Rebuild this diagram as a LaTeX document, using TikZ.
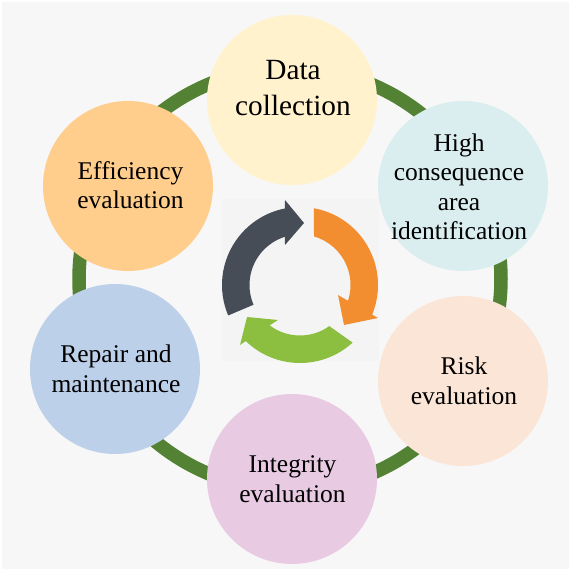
\documentclass[tikz,border=0pt]{standalone}
\usepackage{fontspec}
\setmainfont{Liberation Serif}
\definecolor{bgpanel}{HTML}{F7F7F7}
\definecolor{iconbg}{HTML}{F4F4F4}
\definecolor{ringgreen}{HTML}{548235}
\definecolor{cDC}{HTML}{FFF2CC}
\definecolor{cHC}{HTML}{DAEEF0}
\definecolor{cRE}{HTML}{FBE5D6}
\definecolor{cIE}{HTML}{E9CAE3}
\definecolor{cRM}{HTML}{BDD0EA}
\definecolor{cEE}{HTML}{FFCD8C}
\definecolor{arrDark}{HTML}{474D57}
\definecolor{arrOrange}{HTML}{F28E30}
\definecolor{arrGreen}{HTML}{8CBF40}
\begin{document}
\begin{tikzpicture}[x=1pt,y=1pt,
  stagecircle/.style={circle,draw=none,minimum size=170pt,inner sep=0pt},
  stagetext/.style={align=center,inner sep=0pt,font=\fontsize{25.5}{29.5}\selectfont},
  bigtext/.style={align=center,inner sep=0pt,font=\fontsize{29.3}{35.7}\selectfont}]
\useasboundingbox (0,0) rectangle (571,571);
\fill[white] (0,0) rectangle (571,571);
\fill[bgpanel] (2,2) rectangle (569,569);
% ring
\draw[ringgreen,line width=13.5pt] (290,292) circle[radius=211pt];
% stage circles
\node[stagecircle,fill=cDC] (dc) at (292,471) {};
\node[stagecircle,fill=cHC] (hc) at (463,385) {};
\node[stagecircle,fill=cRE] (re) at (463,190) {};
\node[stagecircle,fill=cIE] (ie) at (292,92) {};
\node[stagecircle,fill=cRM] (rm) at (115,202) {};
\node[stagecircle,fill=cEE] (ee) at (128,385) {};
% texts
\node[bigtext] (tdc) at (293,483) {Data\\collection};
\node[stagetext] (thc) at (459,384) {High\\consequence\\area\\identification};
\node[stagetext] (tre) at (464,190) {Risk\\evaluation};
\node[stagetext] (tie) at (292.5,92) {Integrity\\evaluation};
\node[stagetext] (trm) at (116,202) {Repair and\\maintenance};
\node[stagetext] (tee) at (130.5,386) {Efficiency\\evaluation};
% central cycle icon
\fill[iconbg] (222,210) rectangle (379,372);
\begin{scope}[shift={(300,286)}]
  \fill[arrDark] (203:78pt) arc[start angle=203,end angle=101.1,radius=78pt]
    -- (-15,85) -- (4,62) -- (-15,40)
    -- (107.3:50.5pt) arc[start angle=107.3,end angle=203,radius=50.5pt] -- cycle;
  \fill[arrOrange] (79.7:78pt) arc[start angle=79.7,end angle=-22.3,radius=78pt]
    -- (78,-33) -- (44,-40) -- (38,-10)
    -- (-18.2:50.5pt) arc[start angle=-18.2,end angle=73.9,radius=50.5pt] -- cycle;
  \fill[arrGreen] (-47.6:78pt) arc[start angle=-47.6,end angle=-134,radius=78pt]
    -- (-60,-60) -- (-53,-32) -- (-22,-35)
    -- (-126.9:50.5pt) arc[start angle=-126.9,end angle=-54.5,radius=50.5pt] -- cycle;
\end{scope}
\end{tikzpicture}
\end{document}
